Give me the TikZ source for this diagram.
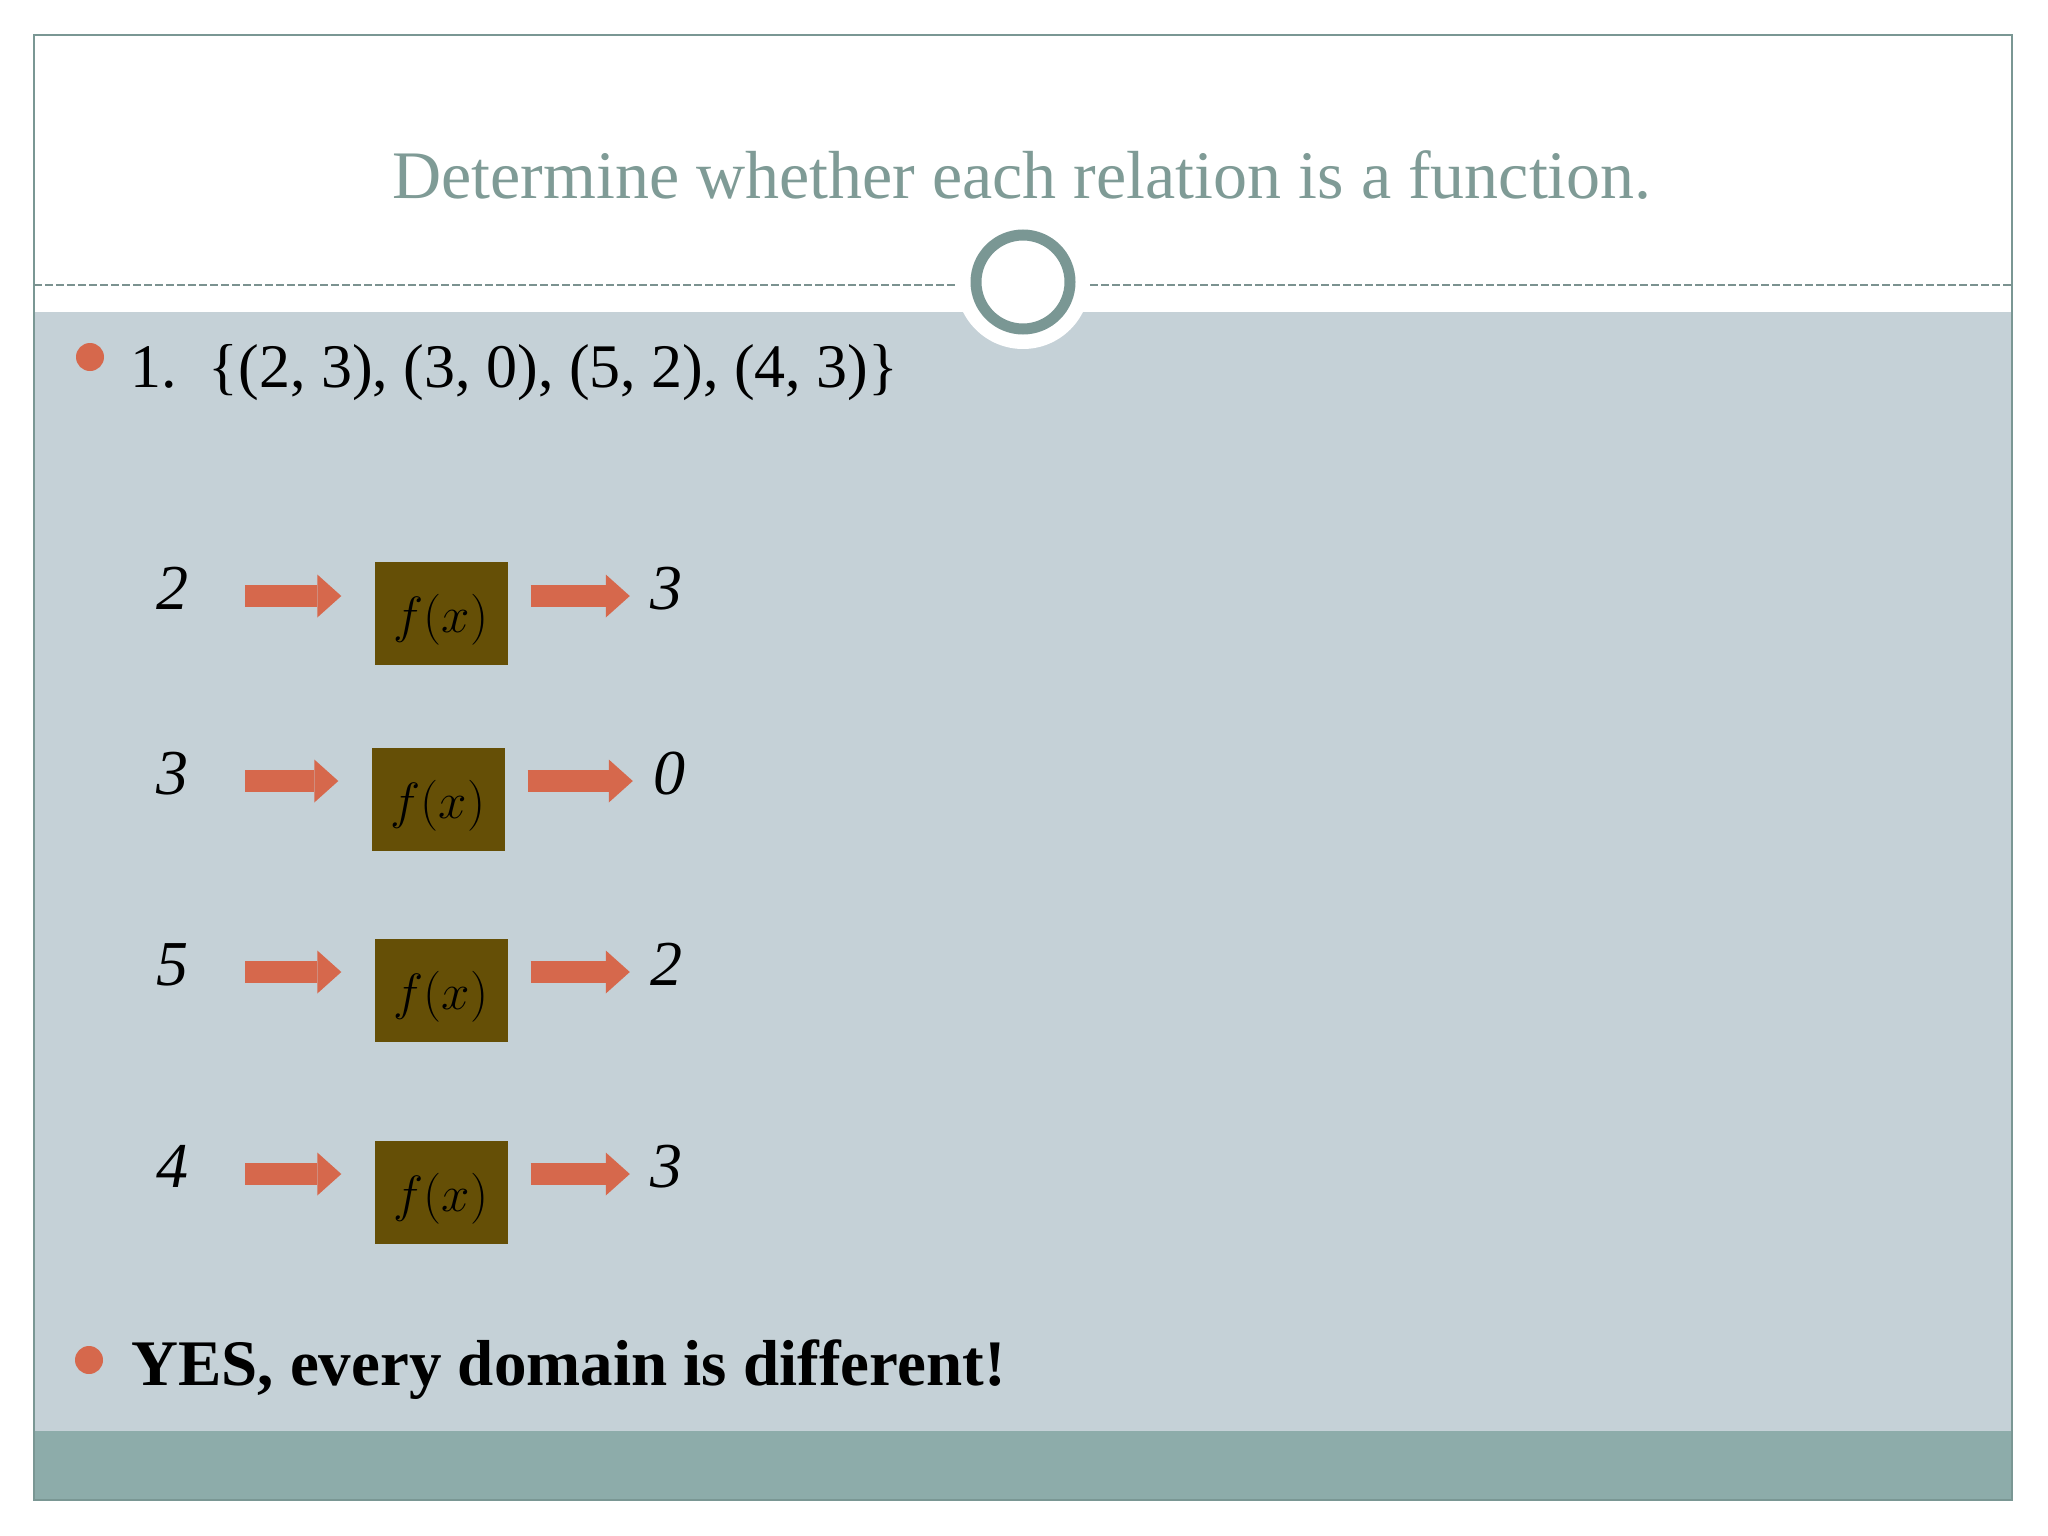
\documentclass[tikz,border=0pt]{standalone}
\usepackage{fix-cm}
\usepackage{fontspec}
\setmainfont{Liberation Serif}
\usetikzlibrary{arrows.meta}

\definecolor{slidegray}{RGB}{197,209,215}
\definecolor{bandteal}{RGB}{141,172,170}
\definecolor{slateteal}{RGB}{122,151,148}
\definecolor{titleteal}{RGB}{127,155,150}
\definecolor{arroworange}{RGB}{214,104,76}
\definecolor{boxbrown}{RGB}{101,79,6}

\tikzstyle{title} = [anchor=base, text=titleteal, font=\fontsize{68}{68}\selectfont]
\tikzstyle{bullet} = [circle, fill=arroworange, minimum size=28pt, inner sep=0pt]
\tikzstyle{item} = [anchor=base west, inner sep=0pt]
\tikzstyle{num} = [inner sep=0pt, text height=0.68em, text depth=0pt, font=\fontsize{64}{64}\selectfont\itshape]
\tikzstyle{funcbox} = [fill=boxbrown, minimum width=133pt, minimum height=103pt, inner sep=0pt, text depth=0pt, font=\fontsize{51}{51}\selectfont]
\tikzstyle{fatarrow} = [draw=arroworange, line width=22pt, -{Triangle[line width=0pt, length=24pt, width=43pt]}]
\tikzstyle{inarrow} = [fatarrow, shorten <=57pt, shorten >=33pt]
\tikzstyle{outarrow} = [fatarrow, shorten <=23pt, shorten >=20pt]
\tikzstyle{dashline} = [draw=slateteal!80!gray, line width=1.5pt, dash pattern=on 8pt off 3pt]
\tikzstyle{ring} = [circle, draw=slateteal, fill=white, line width=11pt, minimum size=94pt, inner sep=0pt]

\begin{document}
\begin{tikzpicture}[x=1pt,y=-1pt]
		\useasboundingbox (0,0) rectangle (2048,1536);
		\fill[white] (0,0) rectangle (2048,1536);
		\fill[slidegray] (34,312) rectangle (2012,1431);
		\fill[bandteal] (34,1431) rectangle (2012,1500);
		\draw[slateteal, line width=2pt] (34,35) rectangle (2012,1500);
		\draw[dashline] (34,285) -- (2012,285);
		\fill[white] (1023,282) circle (67);
		\node[ring] (ring) at (1023,282) {};
		
		\node[title] (title) at (1022,198) {Determine whether each relation is a function.};
		
		\node[bullet] (b1) at (90,357) {};
		\node[item, font=\fontsize{62}{62}\selectfont] (set) at (130,387) {1.\hspace{32pt}\{(2, 3), (3, 0), (5, 2), (4, 3)\}};
		
		% rows
		\coordinate (r1) at (0,596);
		\coordinate (r2) at (0,781);
		\coordinate (r3) at (0,972);
		\coordinate (r4) at (0,1174);
		
		\node[num] (in1) at (172,606) {2};
		\node[num] (in2) at (172,791) {3};
		\node[num] (in3) at (172,982) {5};
		\node[num] (in4) at (172,1184) {4};
		
		\node[funcbox] (f1) at (441,613) {$f(x)$};
		\node[funcbox] (f2) at (438,799) {$f(x)$};
		\node[funcbox] (f3) at (441,990) {$f(x)$};
		\node[funcbox] (f4) at (441,1192) {$f(x)$};
		
		\node[num] (out1) at (666,606) {3};
		\node[num] (out2) at (669,791) {0};
		\node[num] (out3) at (666,982) {2};
		\node[num] (out4) at (666,1184) {3};
		
		\draw[inarrow] (in1.east |- r1) -- (f1.west |- r1);
		\draw[inarrow] (in2.east |- r2) -- (f2.west |- r2);
		\draw[inarrow] (in3.east |- r3) -- (f3.west |- r3);
		\draw[inarrow] (in4.east |- r4) -- (f4.west |- r4);
		\draw[outarrow] (f1.east |- r1) -- (out1.west |- r1);
		\draw[outarrow] (f2.east |- r2) -- (out2.west |- r2);
		\draw[outarrow] (f3.east |- r3) -- (out3.west |- r3);
		\draw[outarrow] (f4.east |- r4) -- (out4.west |- r4);
		
		\node[bullet] (b2) at (89,1360) {};
		\node[item, font=\fontsize{65}{65}\selectfont\bfseries] (answer) at (131,1385) {YES, every domain is different!};
\end{tikzpicture}
\end{document}
